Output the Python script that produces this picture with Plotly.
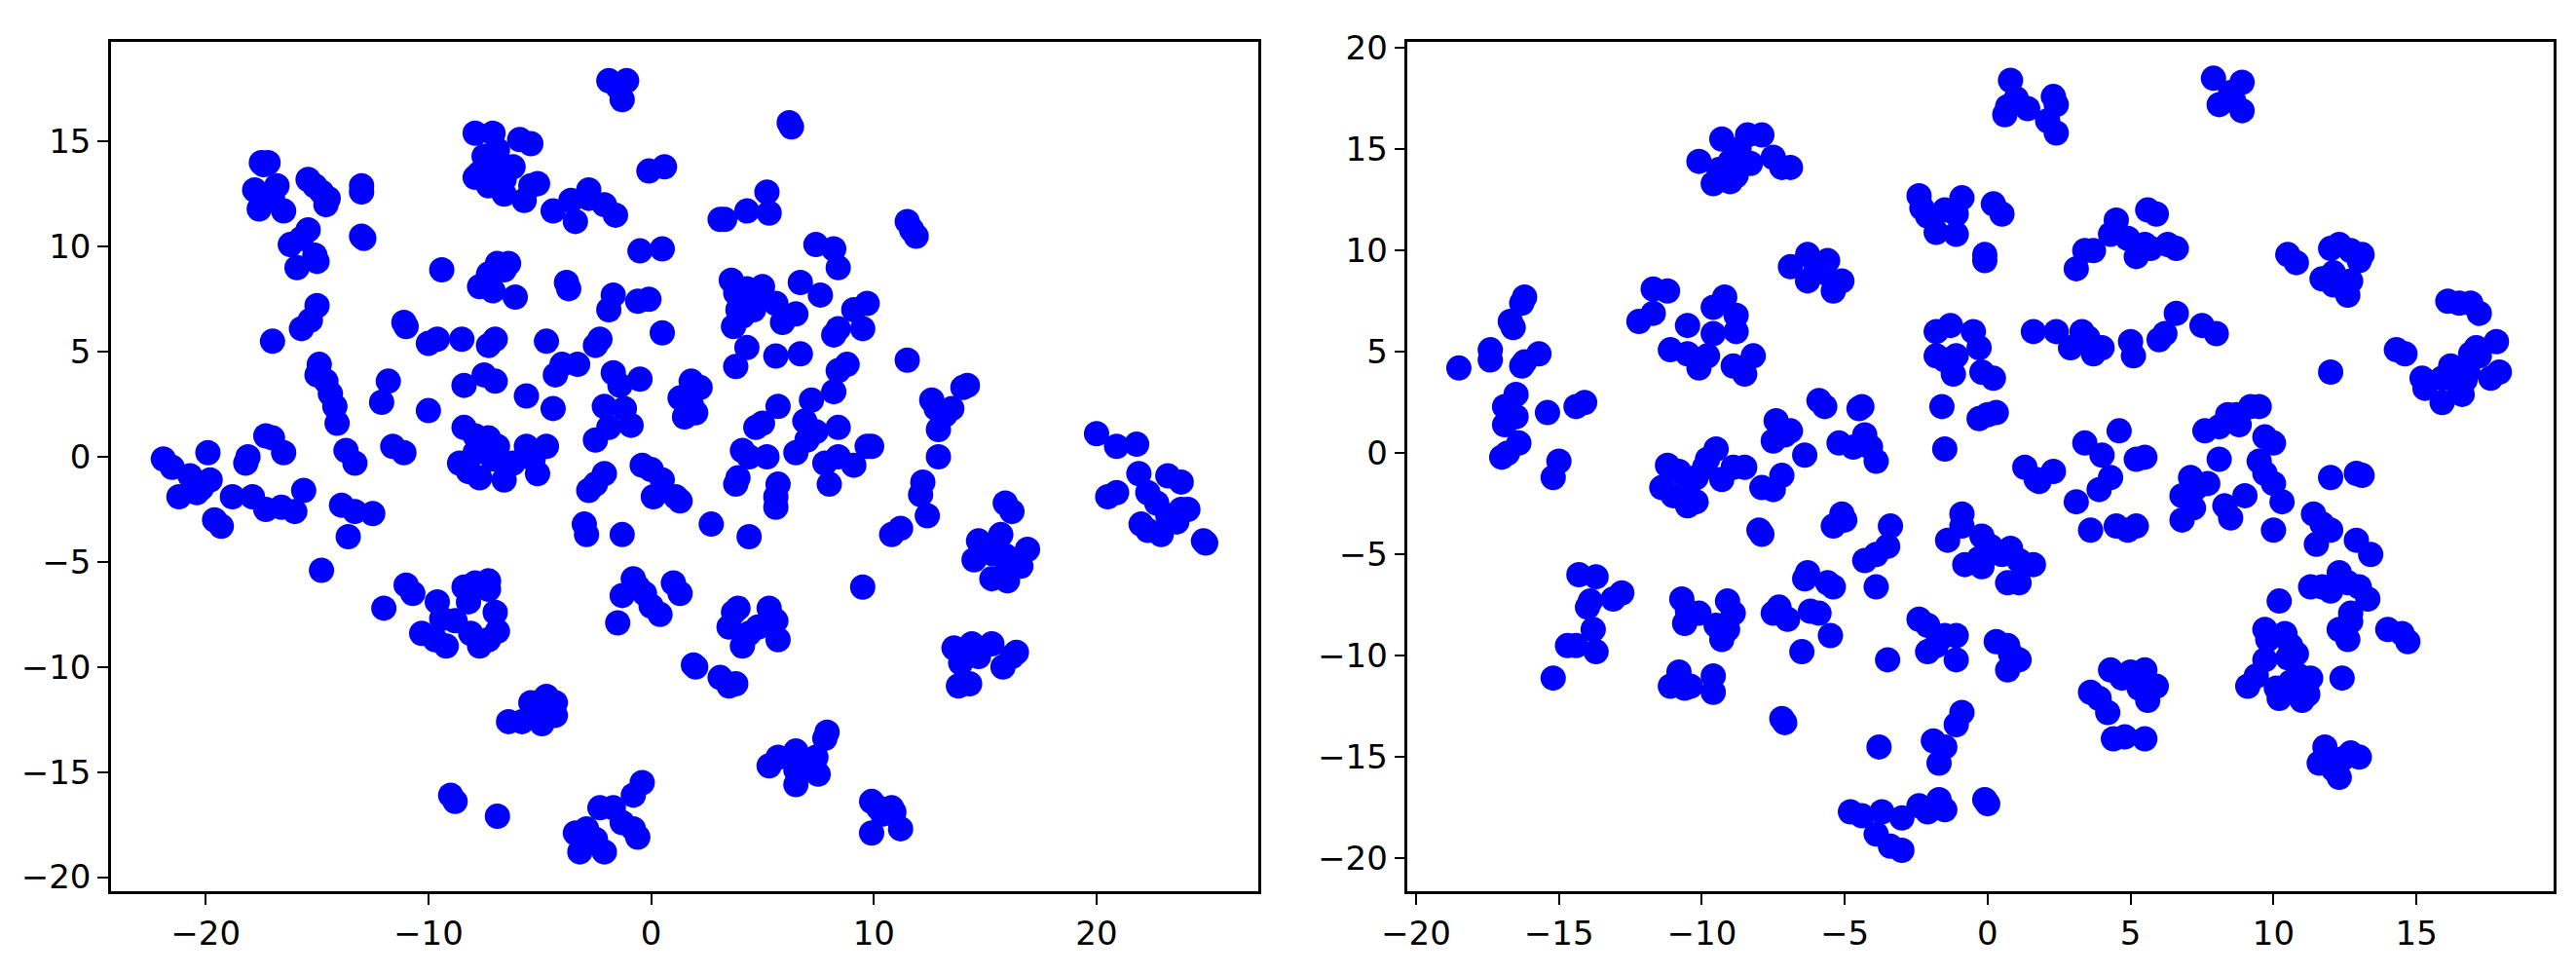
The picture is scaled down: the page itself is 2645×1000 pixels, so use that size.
import plotly.graph_objects as go
from plotly.subplots import make_subplots

# t-SNE embedding, first run (x, y)
left_points = [
    (-1.9, 17.9), (-1.1, 17.9), (-1.3, 17.0), (-1.5, 17.6), (6.2, 15.9), (6.3, 15.7),
    (-7.9, 15.4), (-7.1, 15.4), (-7.5, 14.3), (-6.9, 13.8), (-7.7, 13.5), (-6.6, 13.2), (-6.2, 13.8),
    (-5.9, 15.1), (-5.4, 14.9), (-5.4, 12.9), (-5.7, 12.2), (-6.6, 12.5), (-7.9, 13.3), (-7.3, 12.9),
    (-6.9, 14.6), (-5.1, 13.0),
    (-17.5, 14.0), (-17.2, 14.0), (-17.4, 13.9), (-17.8, 12.7), (-16.8, 12.9), (-17.6, 11.8), (-17.0, 12.3),
    (-16.5, 11.7), (-15.4, 13.2), (-15.1, 12.9), (-14.8, 12.6), (-14.5, 12.3), (-14.6, 12.0),
    (-13.0, 12.9), (-13.0, 12.6), (-13.0, 10.5), (-12.9, 10.4),
    (-16.2, 10.1), (-15.7, 10.4), (-15.4, 10.8), (-15.1, 9.6), (-15.9, 9.0), (-15.0, 9.3),
    (-15.0, 7.2), (-15.3, 6.5), (-15.7, 6.1), (-17.0, 5.5),
    (-14.9, 4.4), (-15.0, 3.9), (-14.6, 3.6), (-14.4, 3.0), (-14.2, 2.4), (-14.1, 1.6),
    (-11.8, 3.6), (-12.1, 2.6), (-10.0, 2.2), (-11.6, 0.5), (-11.1, 0.2), (-13.7, 0.3), (-13.3, -0.3),
    (-21.9, -0.1), (-21.5, -0.5), (-20.7, -0.9), (-20.2, -1.5), (-19.8, -1.1), (-19.9, 0.2), (-21.2, -1.9),
    (-20.4, -1.7), (-18.1, 0.0), (-18.2, -0.3), (-17.3, 1.0), (-17.0, 0.9), (-16.5, 0.2),
    (-18.8, -1.9), (-17.9, -1.9), (-17.3, -2.5), (-16.6, -2.4), (-16.0, -2.6), (-15.6, -1.6),
    (-19.3, -3.3), (-19.6, -3.0), (-13.9, -2.3), (-13.3, -2.6), (-12.5, -2.7), (-13.6, -3.8), (-14.8, -5.4),
    (-8.4, 3.4), (-7.5, 3.9), (-7.0, 3.6), (-8.4, 1.4), (-7.9, 1.0), (-7.3, 0.9),
    (-8.6, -0.3), (-8.2, -0.7), (-7.7, -1.0), (-7.1, -0.1), (-6.9, 0.5), (-6.6, -1.1), (-7.9, 0.2),
    (-6.2, -0.3), (-5.6, 0.5), (-5.3, -0.1), (-5.1, -0.8), (-4.7, 0.5), (-5.6, 2.9), (-4.4, 2.3),
    (-4.3, 3.9), (-4.0, 4.4), (-3.3, 4.4), (-4.7, 5.5), (-3.8, 8.3), (-3.7, 8.0),
    (-4.4, 11.7), (-3.6, 12.2), (-3.4, 11.2), (-2.8, 12.7), (-2.8, 12.3), (-2.1, 12.0), (-1.6, 11.5),
    (-7.7, 8.1), (-7.3, 8.7), (-6.9, 9.2), (-6.6, 8.9), (-6.4, 9.2), (-7.1, 7.9), (-6.1, 7.6), (-9.4, 8.9),
    (-11.1, 6.4), (-11.0, 6.2), (-10.0, 5.4), (-9.6, 5.6), (-8.5, 5.6), (-7.3, 5.3), (-7.0, 5.6),
    (-2.5, 5.3), (-2.3, 5.6), (-1.9, 7.0), (-1.7, 7.7), (-0.6, 7.4), (-0.1, 7.5), (0.5, 5.9),
    (-0.5, 9.8), (0.5, 9.9), (-0.1, 13.6), (0.6, 13.8),
    (-1.7, 4.0), (-1.4, 3.4), (-0.5, 3.7), (-2.1, 2.4), (-1.2, 2.3), (-0.9, 1.5), (-1.9, 1.4), (-2.5, 0.8),
    (-2.5, -1.3), (-2.8, -1.6), (-2.1, -0.8), (-0.4, -0.4), (0.0, -0.6),
    (0.1, -1.9), (0.5, -1.1), (1.1, -1.9), (1.3, -2.1), (-3.0, -3.2), (-2.9, -3.7), (-1.3, -3.7), (2.7, -3.2),
    (1.3, 2.8), (1.8, 3.6), (2.2, 3.3), (1.5, 1.9), (2.0, 2.1), (1.8, 2.5),
    (3.1, 11.3), (3.3, 11.3), (4.3, 11.7), (5.2, 12.6), (5.3, 11.6),
    (3.6, 8.4), (3.8, 7.8), (4.3, 8.0), (5.0, 8.1), (3.9, 7.0), (3.7, 6.2), (4.1, 6.7), (4.6, 7.0),
    (4.8, 7.5), (5.6, 7.3), (5.9, 6.4), (6.5, 6.8), (4.3, 5.2), (3.8, 4.3), (5.6, 4.8), (6.7, 4.9),
    (6.7, 8.3), (7.6, 7.7), (7.4, 10.1), (8.2, 9.9), (8.4, 9.0),
    (8.2, 5.8), (8.4, 6.1), (9.1, 7.0), (9.7, 7.3), (9.5, 6.1), (8.4, 4.1), (8.8, 4.4), (8.2, 3.1),
    (7.2, 2.7), (6.9, 1.7), (7.4, 1.2), (8.4, 1.4), (7.0, 0.8), (5.7, 2.4), (5.0, 1.6), (4.7, 1.4),
    (4.1, 0.3), (4.4, 0.0), (5.2, 0.0), (6.5, 0.2),
    (7.8, -0.3), (8.4, 0.0), (9.1, -0.4), (9.7, 0.5), (9.9, 0.5), (8.0, -1.3), (3.9, -1.0), (3.8, -1.3),
    (5.7, -1.3), (5.6, -1.9), (5.6, -2.4), (4.4, -3.8),
    (11.5, 11.2), (11.7, 10.8), (11.9, 10.5), (11.5, 4.6),
    (12.6, 2.7), (12.8, 2.3), (13.2, 2.0), (13.5, 2.3), (12.9, 1.3), (12.9, 0.0), (14.0, 3.3), (14.2, 3.4),
    (12.2, -1.2), (12.1, -1.8), (12.4, -2.8), (10.8, -3.7), (11.2, -3.4),
    (14.7, -4.0), (14.5, -4.9), (15.3, -4.6), (15.7, -3.7), (15.9, -2.2), (16.2, -2.6), (15.3, -5.8),
    (16.0, -5.2), (16.0, -5.9), (16.6, -5.2), (16.9, -4.4), (15.9, -4.7), (15.2, -4.2), (9.5, -6.2),
    (13.6, -9.1), (13.9, -9.8), (14.4, -8.9), (14.7, -9.5), (15.3, -8.9), (15.8, -10.0), (16.2, -9.5),
    (16.4, -9.3), (13.8, -10.9), (14.3, -10.8),
    (20.0, 1.1), (20.9, 0.5), (21.8, 0.6), (21.9, -0.8), (20.5, -1.9), (20.9, -1.7),
    (22.3, -1.7), (23.2, -0.9), (23.8, -1.2), (22.7, -2.2), (23.8, -2.5), (24.1, -2.5), (22.0, -3.2),
    (22.3, -3.5), (22.9, -3.7), (23.6, -3.1), (23.2, -2.8), (24.8, -4.0), (24.9, -4.1),
    (-11.0, -6.1), (-10.7, -6.5), (-12.0, -7.2),
    (-9.6, -6.9), (-9.4, -7.7), (-10.3, -8.4), (-9.7, -8.7), (-9.2, -9.0), (-8.8, -7.8), (-8.2, -6.9),
    (-8.4, -6.2), (-7.9, -6.0), (-7.3, -5.9), (-7.3, -6.3), (-7.0, -7.4), (-6.9, -8.3), (-7.3, -8.7),
    (-7.7, -9.0), (-8.1, -8.4),
    (-1.5, -7.9), (-1.3, -6.6), (-0.8, -5.8), (-0.6, -6.2), (-0.3, -6.5), (0.0, -7.1), (0.4, -7.5),
    (1.0, -6.0), (1.3, -6.5),
    (3.7, -7.4), (3.9, -7.2), (3.5, -8.1), (4.1, -9.0), (4.4, -8.4), (4.8, -8.1), (5.3, -7.2), (5.6, -7.8),
    (5.7, -8.7), (1.9, -9.9), (2.0, -10.0), (3.1, -10.5), (3.5, -10.9), (3.8, -10.8),
    (-6.4, -12.6), (-5.8, -12.6), (-5.3, -12.3), (-5.1, -11.7), (-4.7, -11.4), (-4.3, -11.7), (-4.3, -12.3),
    (-4.9, -12.7), (-5.4, -11.7),
    (-9.0, -16.1), (-8.8, -16.4), (-6.9, -17.1),
    (-3.4, -17.9), (-3.2, -18.8), (-2.9, -17.7), (-2.5, -18.2), (-2.1, -18.8), (-2.3, -16.7), (-1.7, -16.7),
    (-1.3, -17.4), (-0.8, -17.7), (-0.6, -18.1), (-0.8, -16.1), (-0.4, -15.5),
    (5.3, -14.7), (5.7, -14.3), (6.5, -14.0), (6.5, -14.9), (6.5, -15.6), (7.4, -14.3), (7.5, -15.1),
    (7.8, -13.4), (7.9, -13.1),
    (9.9, -16.4), (10.2, -16.7), (9.9, -17.9), (10.4, -17.0), (10.8, -16.7), (10.9, -16.9), (11.2, -17.7),
]

# t-SNE embedding, second run (x, y)
right_points = [
    (0.8, 18.4), (0.6, 16.7), (1.0, 17.5), (1.4, 17.0), (0.7, 17.1), (2.3, 17.6), (2.4, 17.2), (2.1, 16.4),
    (2.4, 15.8),
    (7.9, 18.5), (8.1, 17.2), (8.5, 17.8), (8.9, 18.3), (8.9, 16.9), (8.6, 17.4),
    (-10.1, 14.4), (-9.3, 15.5), (-9.6, 13.3), (-9.0, 13.4), (-9.0, 14.4), (-8.7, 15.0), (-8.3, 14.3),
    (-8.4, 15.7), (-7.9, 15.7), (-7.5, 14.6), (-7.2, 14.1), (-6.9, 14.1), (-9.4, 14.0), (-8.8, 13.7),
    (-6.9, 9.2), (-6.3, 9.8), (-6.3, 8.5), (-6.0, 9.2), (-5.6, 9.5), (-5.7, 8.9), (-5.4, 8.0), (-5.1, 8.5),
    (-2.4, 12.7), (-2.3, 12.1), (-2.1, 11.7), (-1.8, 10.9), (-1.5, 12.0), (-1.1, 11.8), (-1.1, 10.8),
    (-0.9, 12.6), (0.2, 12.3), (0.5, 11.8), (-0.1, 9.8), (-0.1, 9.5),
    (3.1, 9.1), (3.4, 10.0), (3.7, 10.0),
    (4.3, 10.8), (4.5, 11.5), (4.9, 10.6), (5.2, 9.7), (5.6, 12.0), (5.9, 11.8), (5.5, 10.3), (5.7, 10.1),
    (6.3, 10.3), (6.6, 10.1),
    (10.5, 9.8), (10.8, 9.4),
    (11.7, 8.6), (12.1, 8.9), (12.1, 8.3), (12.6, 7.8), (12.7, 8.5), (12.3, 10.3), (12.0, 10.1), (12.7, 10.0),
    (13.0, 9.5), (13.1, 9.8),
    (-16.2, 7.7), (-16.3, 7.4), (-16.7, 6.5), (-16.6, 6.2), (-17.4, 5.1), (-17.4, 4.6), (-18.5, 4.2),
    (-16.2, 4.5), (-15.7, 4.9), (-16.3, 4.3),
    (-16.5, 2.9), (-16.9, 2.3), (-16.5, 1.8), (-16.9, 1.4), (-16.4, 0.5), (-17.0, -0.2), (-16.8, 0.0),
    (-15.4, 2.0), (-14.4, 2.3), (-14.1, 2.5), (-15.0, -0.4), (-15.2, -1.2),
    (-12.2, 6.5), (-11.7, 6.9), (-11.7, 8.1), (-11.2, 8.0),
    (-10.5, 6.3), (-9.6, 7.2), (-9.2, 7.7), (-8.8, 6.8), (-8.8, 6.0), (-9.6, 5.9), (-9.8, 4.8), (-10.1, 4.2),
    (-11.1, 5.1), (-10.5, 4.9), (-8.9, 4.3), (-8.5, 3.9), (-8.2, 4.8),
    (-11.4, -1.7), (-11.2, -0.6), (-10.8, -0.9), (-10.5, -1.8), (-10.5, -2.6), (-10.2, -1.2), (-9.9, -0.7),
    (-9.8, -0.3), (-9.5, 0.2), (-9.3, -1.3), (-8.9, -0.7), (-8.5, -0.7), (-11.0, -2.1), (-10.2, -2.4),
    (-7.4, 1.6), (-7.5, 0.6), (-6.9, 1.1), (-7.1, 0.9), (-6.4, -0.1),
    (-7.9, -1.7), (-7.5, -1.8), (-7.2, -1.1), (-8.0, -3.8), (-7.9, -4.0),
    (-5.9, 2.6), (-5.7, 2.3), (-4.5, 2.2), (-4.4, 2.3),
    (-5.2, 0.5), (-4.7, 0.3), (-4.3, 0.9), (-4.1, 0.3), (-3.9, -0.4),
    (-5.4, -3.6), (-5.1, -3.0), (-5.0, -3.3),
    (-3.4, -3.6), (-3.5, -4.6), (-3.9, -5.0), (-4.3, -5.3), (-3.9, -6.6),
    (-1.8, 6.0), (-1.3, 6.3), (-1.8, 4.8), (-1.5, 4.6), (-1.1, 4.8), (-1.2, 3.9), (-0.5, 6.0), (-0.3, 5.2),
    (-0.2, 4.0), (0.2, 3.7), (-1.6, 2.3), (-1.5, 0.2), (-0.3, 1.7), (0.0, 1.9), (0.3, 2.0),
    (1.6, 6.0), (2.4, 6.0), (2.9, 5.2), (3.3, 6.0), (3.5, 5.7), (4.0, 5.2), (3.7, 4.9), (5.0, 5.5),
    (5.1, 4.8), (6.0, 5.6), (6.6, 6.9), (6.2, 5.9), (7.5, 6.3), (8.0, 5.9),
    (-1.4, -4.3), (-0.9, -3.0), (-0.9, -3.6), (-0.2, -4.1), (0.1, -4.6), (-0.3, -5.2), (-0.8, -5.5),
    (-0.2, -5.6), (0.5, -5.0), (0.8, -4.7), (1.1, -5.3), (1.6, -5.5), (0.7, -6.4), (1.1, -6.4), (0.2, -4.8),
    (1.3, -0.7), (1.7, -1.3), (2.3, -0.9), (1.8, -1.4), (3.1, -2.4),
    (3.4, 0.5), (4.0, -0.1), (4.6, 1.1), (4.3, -1.2), (3.9, -1.8), (5.2, -0.3), (5.5, -0.2),
    (3.6, -3.8), (4.5, -3.6), (4.9, -3.8), (5.2, -3.6),
    (7.6, 1.1), (8.1, 1.3), (8.4, 1.9), (8.8, 1.4), (9.2, 2.3), (9.5, 2.3), (8.7, 1.9), (8.1, -0.3),
    (7.1, -1.2), (6.8, -2.1), (7.3, -1.7), (7.7, -1.5), (7.2, -2.7), (6.8, -3.3),
    (8.3, -2.6), (8.5, -3.2), (9.0, -2.1),
    (9.7, 0.8), (10.0, 0.5), (9.5, -0.4), (9.7, -1.0), (10.0, -1.5), (10.3, -2.4), (10.0, -3.8),
    (12.0, -1.2), (12.9, -1.0), (13.1, -1.1),
    (11.4, -3.0), (11.7, -3.5), (12.0, -3.8), (11.5, -4.5), (12.9, -4.3), (13.4, -5.0),
    (11.3, -6.6), (11.7, -6.6), (12.3, -5.9), (12.6, -6.4), (13.0, -6.6), (13.3, -7.2), (12.0, -6.8),
    (12.7, -7.9), (12.3, -8.7), (12.6, -9.2), (12.7, -8.3), (10.2, -7.3),
    (9.7, -8.7), (9.8, -9.2), (10.4, -8.9), (10.6, -9.5), (10.8, -9.9), (10.5, -10.1), (9.7, -10.2),
    (9.4, -11.0), (9.1, -11.5), (10.1, -11.6), (10.2, -12.1), (10.9, -11.0), (11.3, -11.1), (11.0, -12.2),
    (11.2, -11.9), (10.6, -11.3), (12.4, -11.1),
    (14.0, -8.7), (14.5, -8.9), (14.7, -9.3),
    (11.6, -15.3), (11.8, -14.5), (12.1, -15.6), (12.3, -16.0), (12.4, -15.1), (12.7, -14.8), (13.0, -15.0),
    (12.0, -15.1),
    (14.3, 5.1), (14.6, 4.9), (15.2, 3.7), (15.3, 3.2), (15.9, 3.7), (15.9, 2.5), (16.2, 4.3), (16.5, 3.2),
    (16.6, 2.9), (16.8, 4.0), (16.9, 4.9), (17.2, 4.8), (17.1, 5.2), (16.7, 3.6), (17.8, 5.5), (17.6, 3.7),
    (17.9, 4.0),
    (16.1, 7.5), (16.5, 7.4), (16.9, 7.4), (17.2, 6.9), (12.0, 4.0),
    (-14.3, -6.0), (-13.7, -6.1), (-13.1, -7.2), (-12.8, -6.9), (-14.0, -7.6), (-13.9, -7.3), (-13.8, -8.7),
    (-13.7, -9.8), (-14.7, -9.5), (-14.4, -9.5), (-15.2, -11.1),
    (-10.7, -7.2), (-10.5, -7.8), (-10.6, -8.4), (-10.1, -7.9), (-9.5, -8.5), (-9.3, -9.2), (-9.1, -7.3),
    (-8.9, -7.9), (-9.1, -8.7),
    (-11.1, -11.5), (-10.8, -10.8), (-10.6, -11.6), (-10.4, -11.5), (-9.6, -11.0), (-9.6, -11.8),
    (-7.5, -7.9), (-7.3, -7.6), (-7.0, -8.2), (-6.3, -5.9), (-6.4, -6.2), (-5.6, -6.4), (-5.4, -6.6),
    (-6.2, -7.8), (-5.9, -7.9), (-5.5, -9.0), (-6.5, -9.8), (-7.2, -13.1), (-7.1, -13.3),
    (-2.4, -8.2), (-2.1, -8.5), (-1.5, -9.0), (-1.1, -9.0), (-2.1, -9.8), (-1.8, -9.5), (-1.1, -10.2),
    (-3.5, -10.2),
    (0.3, -9.3), (0.7, -9.5), (0.8, -9.9), (1.1, -10.2), (0.7, -10.7),
    (-1.9, -14.2), (-1.5, -14.5), (-1.7, -15.3), (-1.1, -13.4), (-0.9, -12.8), (-3.8, -14.5),
    (-4.8, -17.7), (-4.4, -17.9), (-3.7, -17.7), (-3.9, -18.8), (-3.4, -19.4), (-3.0, -19.6), (-3.0, -18.0),
    (-2.4, -17.4), (-2.1, -17.7), (-1.7, -17.1), (-1.5, -17.6), (-0.1, -17.1), (0.0, -17.3),
    (3.6, -11.8), (3.9, -12.1), (4.2, -12.8), (4.3, -10.7), (4.7, -11.1), (5.3, -11.6), (5.6, -12.2),
    (5.9, -11.5), (5.5, -10.7), (5.0, -10.8), (4.4, -14.1), (4.8, -14.0), (5.5, -14.1),
]

left_x = [p[0] for p in left_points]
left_y = [p[1] for p in left_points]
right_x = [p[0] for p in right_points]
right_y = [p[1] for p in right_points]

fig = make_subplots(rows=1, cols=2)

marker = dict(color="#0000ff", size=26, line=dict(width=0))
fig.add_trace(go.Scatter(x=left_x, y=left_y, mode="markers", marker=marker), row=1, col=1)
fig.add_trace(go.Scatter(x=right_x, y=right_y, mode="markers", marker=marker), row=1, col=2)

axis_style = dict(
    showline=True, mirror=True, linecolor="black", linewidth=2.5,
    ticks="outside", ticklen=11, tickwidth=2, tickcolor="black",
    showgrid=False, zeroline=False, automargin=False,
    tickfont=dict(family="DejaVu Sans", size=34, color="black"),
)

fig.update_xaxes(axis_style)
fig.update_yaxes(axis_style)

fig.update_layout(
    width=2645, height=1000,
    margin=dict(l=0, r=0, t=0, b=0),
    plot_bgcolor="white", paper_bgcolor="white",
    showlegend=False,
    xaxis=dict(domain=[114 / 2645, 1291.5 / 2645], range=[-24.25, 27.24], tick0=0, dtick=10),
    yaxis=dict(domain=[0.085, 0.9573], range=[-20.67, 19.76], tick0=0, dtick=5),
    xaxis2=dict(domain=[1445.4 / 2645, 2622 / 2645], range=[-20.29, 19.8], tick0=0, dtick=5),
    yaxis2=dict(domain=[0.085, 0.9573], range=[-21.62, 20.31], tick0=0, dtick=5),
)

fig.write_html(
    "out.html",
    config={"displayModeBar": False},
    post_script="document.body.style.margin='0';document.body.style.overflow='hidden';",
)
